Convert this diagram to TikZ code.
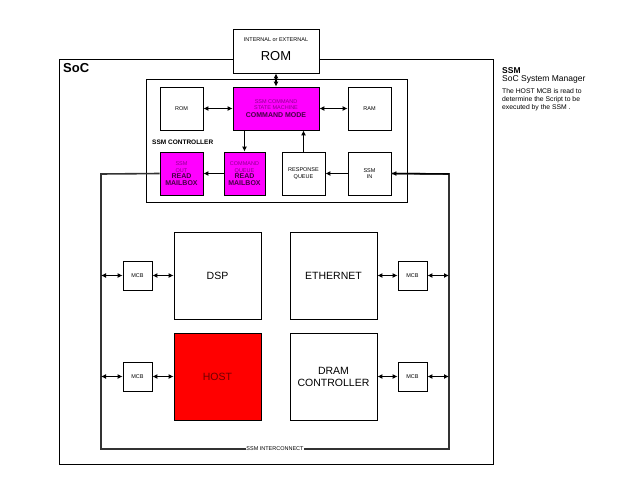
\documentclass[tikz,border=0pt]{standalone}
\usepackage{fontspec}
\setmainfont{Liberation Sans}
\usetikzlibrary{arrows.meta}
\definecolor{mag}{RGB}{255,0,255}
\definecolor{magt}{RGB}{140,0,140}
\definecolor{magb}{RGB}{70,0,70}
\definecolor{hostt}{RGB}{110,0,0}
\begin{document}
\begin{tikzpicture}[x=1pt,y=-1pt,
  box/.style={draw,line width=0.8pt,fill=white,align=center,inner sep=0pt},
  arr/.style={-{Latex[length=5pt,width=5pt]},line width=1.5pt},
  darr/.style={{Latex[length=5pt,width=5pt]}-{Latex[length=5pt,width=5pt]},line width=1.5pt},
  tiny/.style={font=\fontsize{5.5}{6.5}\selectfont}]
\useasboundingbox (0,0) rectangle (638,493);
\draw[line width=0.9pt] (59,59) rectangle (493,464);
\node[anchor=north west,font=\bfseries\fontsize{13}{14}\selectfont,inner sep=0pt] (soc) at (63,63) {SoC};
\node[box,minimum width=86pt,minimum height=44pt] (xrom) at (276,51) {};
\node[tiny,anchor=north] (xromt) at (276,34) {INTERNAL or EXTERNAL};
\node[font=\fontsize{13}{14}\selectfont] (xromb) at (276,56) {ROM};
\draw[line width=0.8pt] (146,79) rectangle (407,202);
\node[anchor=west,font=\bfseries\fontsize{6.5}{7}\selectfont,inner sep=0pt] (ctl) at (152,142) {SSM CONTROLLER};
\node[box,minimum width=43pt,minimum height=43pt,tiny] (rom) at (181.5,108.5) {ROM};
\node[box,fill=mag,minimum width=86pt,minimum height=43pt,tiny,text=magt] (cmd) at (276,108.5) {SSM COMMAND\\STATE MACHINE\\[1pt]{\bfseries\fontsize{7}{8}\selectfont\color{magb} COMMAND MODE}};
\node[box,minimum width=43pt,minimum height=43pt,tiny] (ram) at (369.5,108.5) {RAM};
\node[box,fill=mag,minimum width=43pt,minimum height=43pt,tiny,text=magt] (out) at (181.5,173.5) {SSM\\OUT\\{\bfseries\fontsize{7}{8.5}\selectfont\color{magb}READ}\\{\bfseries\fontsize{7}{8.5}\selectfont\color{magb}MAILBOX}};
\node[box,fill=mag,minimum width=41pt,minimum height=43pt,tiny,text=magt] (cq) at (244.5,173.5) {COMMAND\\QUEUE\\{\bfseries\fontsize{7}{8.5}\selectfont\color{magb}READ}\\{\bfseries\fontsize{7}{8.5}\selectfont\color{magb}MAILBOX}};
\node[box,minimum width=43pt,minimum height=43pt,tiny] (resp) at (303.5,173.5) {RESPONSE\\QUEUE};
\node[box,minimum width=43pt,minimum height=43pt,tiny] (in) at (369.5,173.5) {SSM\\IN};
\draw[darr] (xrom.south) -- (cmd.north);
\draw[darr] (rom.east) -- (cmd.west);
\draw[darr] (cmd.east) -- (ram.west);
\draw[arr] (cmd.south -| cq.north) -- (cq.north);
\draw[arr] (resp.north) -- (resp.north |- cmd.south);
\draw[arr] (cq.west) -- (out.east);
\draw[arr] (in.west) -- (resp.east);
\coordinate (tl) at (101,174);
\coordinate (tr) at (449,174);
\coordinate (bl) at (101,449);
\coordinate (br) at (449,449);
\draw[line width=1.6pt,draw=black!80] (out.west) -- (tl) -- (bl) -- (br) -- (tr) -- (in.east);
\draw[arr] (tr) -- (in.east);
\node[tiny,fill=white,inner sep=0.5pt] (ic) at (275,449) {SSM INTERCONNECT};
\node[box,minimum width=87pt,minimum height=87pt,font=\fontsize{10.5}{12}\selectfont] (dsp) at (217.5,275.5) {DSP};
\node[box,minimum width=87pt,minimum height=87pt,font=\fontsize{10.5}{12}\selectfont] (eth) at (333.5,275.5) {ETHERNET};
\node[box,fill=red,minimum width=87pt,minimum height=87pt,font=\fontsize{10.5}{12}\selectfont,text=hostt] (host) at (217.5,376.5) {HOST};
\node[box,minimum width=87pt,minimum height=87pt,font=\fontsize{10.5}{12}\selectfont] (dram) at (333.5,376.5) {DRAM\\CONTROLLER};
\node[box,minimum width=29pt,minimum height=29pt,tiny] (m1) at (137.5,275.5) {MCB};
\node[box,minimum width=29pt,minimum height=29pt,tiny] (m2) at (137.5,376.5) {MCB};
\node[box,minimum width=29pt,minimum height=29pt,tiny] (m3) at (412.5,275.5) {MCB};
\node[box,minimum width=29pt,minimum height=29pt,tiny] (m4) at (412.5,376.5) {MCB};
\coordinate (l1) at (101,275.5); \coordinate (l2) at (101,376.5);
\coordinate (r1) at (449,275.5); \coordinate (r2) at (449,376.5);
\draw[darr] (l1) -- (m1.west); \draw[darr] (m1.east) -- (dsp.west);
\draw[darr] (l2) -- (m2.west); \draw[darr] (m2.east) -- (host.west);
\draw[darr] (eth.east) -- (m3.west); \draw[darr] (m3.east) -- (r1);
\draw[darr] (dram.east) -- (m4.west); \draw[darr] (m4.east) -- (r2);
\node[anchor=north west,align=left,inner sep=0pt,font=\fontsize{6.8}{8.2}\selectfont] (desc) at (502,67)
 {{\bfseries\fontsize{8.5}{10}\selectfont SSM}\\{\fontsize{8.5}{10}\selectfont SoC System Manager}\\[4pt]The  HOST MCB is read to\\determine the Script to be\\executed by the SSM .};
\end{tikzpicture}
\end{document}
